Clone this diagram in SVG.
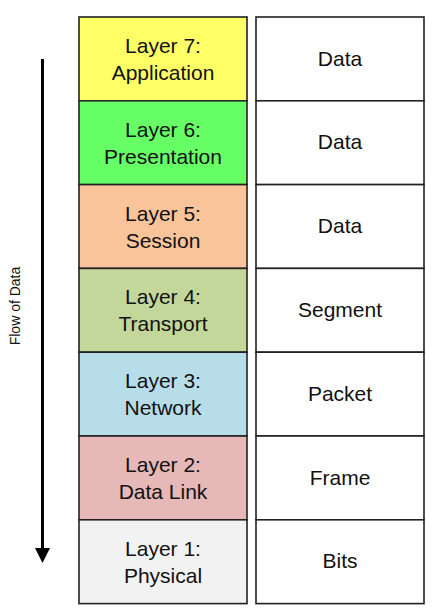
<svg xmlns="http://www.w3.org/2000/svg" width="444" height="612" viewBox="0 0 444 612">
<style>
rect{stroke:#222;stroke-width:1.6}
text{font-family:"Liberation Sans",Arial,sans-serif;font-size:21px;fill:#111;text-anchor:middle}
.r{fill:#fff}
</style>
<rect x="0" y="0" width="444" height="612" fill="#fff" style="stroke:none"/>
<g id="connectors">
<line x1="42.5" y1="59" x2="42.5" y2="550" stroke="#000" stroke-width="3"/>
<polygon points="35,548 50,548 42.5,563" fill="#000"/>
<text x="0" y="0" transform="translate(20,306) rotate(-90)" style="font-size:14px">Flow of Data</text>
</g>
<g id="layer7"><rect x="79" y="17" width="168" height="83.8" fill="#FFFF66"/><text x="163" y="53">Layer 7:</text><text x="163" y="80">Application</text></g>
<g id="layer6"><rect x="79" y="100.8" width="168" height="83.8" fill="#66FF66"/><text x="163" y="136.8">Layer 6:</text><text x="163" y="163.8">Presentation</text></g>
<g id="layer5"><rect x="79" y="184.6" width="168" height="83.8" fill="#F9C499"/><text x="163" y="220.6">Layer 5:</text><text x="163" y="247.6">Session</text></g>
<g id="layer4"><rect x="79" y="268.4" width="168" height="83.8" fill="#C4D79B"/><text x="163" y="304.4">Layer 4:</text><text x="163" y="331.4">Transport</text></g>
<g id="layer3"><rect x="79" y="352.2" width="168" height="83.8" fill="#B7DEE8"/><text x="163" y="388.2">Layer 3:</text><text x="163" y="415.2">Network</text></g>
<g id="layer2"><rect x="79" y="436" width="168" height="83.8" fill="#E6B8B7"/><text x="163" y="472">Layer 2:</text><text x="163" y="499">Data Link</text></g>
<g id="layer1"><rect x="79" y="519.8" width="168" height="83.8" fill="#F2F2F2"/><text x="163" y="555.8">Layer 1:</text><text x="163" y="582.8">Physical</text></g>
<g id="pdu7"><rect class="r" x="256" y="17" width="168" height="83.8"/><text x="340" y="65.5">Data</text></g>
<g id="pdu6"><rect class="r" x="256" y="100.8" width="168" height="83.8"/><text x="340" y="149.3">Data</text></g>
<g id="pdu5"><rect class="r" x="256" y="184.6" width="168" height="83.8"/><text x="340" y="233.1">Data</text></g>
<g id="pdu4"><rect class="r" x="256" y="268.4" width="168" height="83.8"/><text x="340" y="316.9">Segment</text></g>
<g id="pdu3"><rect class="r" x="256" y="352.2" width="168" height="83.8"/><text x="340" y="400.7">Packet</text></g>
<g id="pdu2"><rect class="r" x="256" y="436" width="168" height="83.8"/><text x="340" y="484.5">Frame</text></g>
<g id="pdu1"><rect class="r" x="256" y="519.8" width="168" height="83.8"/><text x="340" y="568.3">Bits</text></g>
</svg>
